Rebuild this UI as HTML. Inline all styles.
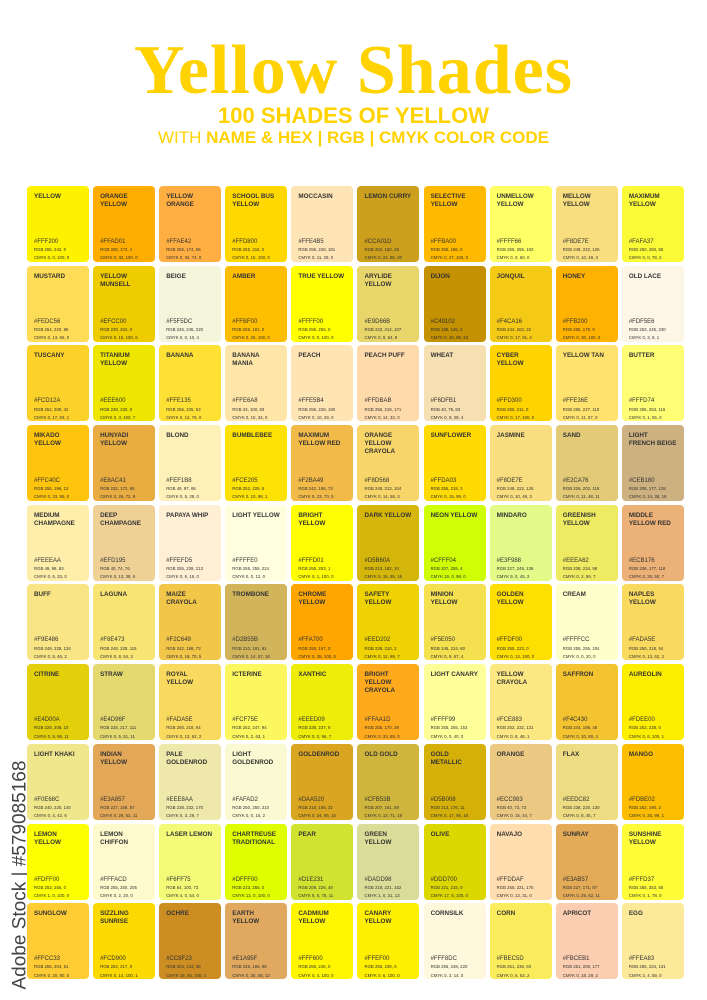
<!DOCTYPE html>
<html><head><meta charset="utf-8"><style>
*{margin:0;padding:0;box-sizing:border-box}
body{width:707px;height:1000px;background:#fff;position:relative;overflow:hidden;font-family:"Liberation Sans",sans-serif}
.t{position:absolute;left:0;width:707px;text-align:center;color:#FFD200;white-space:nowrap}
#t1{top:33px;font-family:"Liberation Serif",serif;font-weight:bold;font-size:70px;line-height:76px;letter-spacing:1px}
#t2{top:104px;font-weight:bold;font-size:22px;line-height:24px}
#t3{top:128px;font-size:17px;line-height:20px}
#t3 b{font-weight:bold}
.g{position:absolute;left:27px;top:186px;display:grid;grid-template-columns:repeat(10,62px);grid-auto-rows:76px;column-gap:4.1px;row-gap:3.7px}
.c{position:relative;border-radius:4px;color:#333}
.c b{position:absolute;left:7px;top:7px;font-size:6.3px;line-height:8px;font-weight:bold;white-space:nowrap}
.c i{position:absolute;left:7px;top:52px;font-style:normal;font-size:4.3px;line-height:8.2px;white-space:nowrap}
.c i span{font-size:6px}
#wm{position:absolute;left:-92px;top:866px;width:225px;transform:rotate(-90deg);font-size:19px;color:#444;white-space:nowrap;text-align:center}
</style></head><body>
<div class="t" id="t1">Yellow Shades</div>
<div class="t" id="t2">100 SHADES OF YELLOW</div>
<div class="t" id="t3">WITH <b>NAME &amp; HEX | RGB | CMYK COLOR CODE</b></div>
<div id="wm">Adobe Stock | #579085168</div>
<div class="g">
<div class="c" style="background:#FFF200"><b>YELLOW</b><i><span>#FFF200</span><br>RGB 255, 242, 0<br>CMYK 0, 0, 100, 0</i></div>
<div class="c" style="background:#FFAD01"><b>ORANGE<br>YELLOW</b><i><span>#FFAD01</span><br>RGB 255, 173, 1<br>CMYK 0, 32, 100, 0</i></div>
<div class="c" style="background:#FFAE42"><b>YELLOW<br>ORANGE</b><i><span>#FFAE42</span><br>RGB 255, 174, 66<br>CMYK 0, 32, 74, 0</i></div>
<div class="c" style="background:#FFD800"><b>SCHOOL BUS<br>YELLOW</b><i><span>#FFD800</span><br>RGB 255, 216, 0<br>CMYK 0, 15, 100, 0</i></div>
<div class="c" style="background:#FFE4B5"><b>MOCCASIN</b><i><span>#FFE4B5</span><br>RGB 255, 228, 181<br>CMYK 0, 11, 29, 0</i></div>
<div class="c" style="background:#CCA01D"><b>LEMON CURRY</b><i><span>#CCA01D</span><br>RGB 204, 160, 29<br>CMYK 0, 22, 86, 20</i></div>
<div class="c" style="background:#FFBA00"><b>SELECTIVE<br>YELLOW</b><i><span>#FFBA00</span><br>RGB 255, 186, 0<br>CMYK 0, 27, 100, 0</i></div>
<div class="c" style="background:#FFFF66"><b>UNMELLOW<br>YELLOW</b><i><span>#FFFF66</span><br>RGB 255, 255, 102<br>CMYK 0, 0, 60, 0</i></div>
<div class="c" style="background:#F8DE7E"><b>MELLOW<br>YELLOW</b><i><span>#F8DE7E</span><br>RGB 248, 222, 126<br>CMYK 0, 10, 49, 3</i></div>
<div class="c" style="background:#FAFA37"><b>MAXIMUM<br>YELLOW</b><i><span>#FAFA37</span><br>RGB 250, 250, 55<br>CMYK 0, 0, 78, 2</i></div>

<div class="c" style="background:#FEDC56"><b>MUSTARD</b><i><span>#FEDC56</span><br>RGB 254, 220, 86<br>CMYK 0, 13, 66, 0</i></div>
<div class="c" style="background:#EFCC00"><b>YELLOW<br>MUNSELL</b><i><span>#EFCC00</span><br>RGB 239, 204, 0<br>CMYK 0, 15, 100, 6</i></div>
<div class="c" style="background:#F5F5DC"><b>BEIGE</b><i><span>#F5F5DC</span><br>RGB 245, 245, 220<br>CMYK 0, 0, 10, 4</i></div>
<div class="c" style="background:#FFBF00"><b>AMBER</b><i><span>#FFBF00</span><br>RGB 255, 191, 0<br>CMYK 0, 25, 100, 0</i></div>
<div class="c" style="background:#FFFF00"><b>TRUE YELLOW</b><i><span>#FFFF00</span><br>RGB 255, 255, 0<br>CMYK 0, 0, 100, 0</i></div>
<div class="c" style="background:#E9D66B"><b>ARYLIDE<br>YELLOW</b><i><span>#E9D66B</span><br>RGB 233, 214, 107<br>CMYK 0, 8, 54, 9</i></div>
<div class="c" style="background:#C49102"><b>DIJON</b><i><span>#C49102</span><br>RGB 196, 145, 2<br>CMYK 0, 26, 99, 23</i></div>
<div class="c" style="background:#F4CA16"><b>JONQUIL</b><i><span>#F4CA16</span><br>RGB 244, 202, 22<br>CMYK 0, 17, 91, 4</i></div>
<div class="c" style="background:#FFB200"><b>HONEY</b><i><span>#FFB200</span><br>RGB 255, 178, 0<br>CMYK 0, 30, 100, 0</i></div>
<div class="c" style="background:#FDF5E6"><b>OLD LACE</b><i><span>#FDF5E6</span><br>RGB 253, 245, 230<br>CMYK 0, 3, 9, 1</i></div>

<div class="c" style="background:#FCD12A"><b>TUSCANY</b><i><span>#FCD12A</span><br>RGB 252, 209, 42<br>CMYK 0, 17, 83, 1</i></div>
<div class="c" style="background:#EEE600"><b>TITANIUM<br>YELLOW</b><i><span>#EEE600</span><br>RGB 238, 230, 0<br>CMYK 0, 3, 100, 7</i></div>
<div class="c" style="background:#FFE135"><b>BANANA</b><i><span>#FFE135</span><br>RGB 255, 225, 53<br>CMYK 0, 12, 79, 0</i></div>
<div class="c" style="background:#FFE6A8"><b>BANANA<br>MANIA</b><i><span>#FFE6A8</span><br>RGB 43, 100, 83<br>CMYK 0, 10, 34, 0</i></div>
<div class="c" style="background:#FFE5B4"><b>PEACH</b><i><span>#FFE5B4</span><br>RGB 255, 229, 180<br>CMYK 0, 10, 29, 0</i></div>
<div class="c" style="background:#FFDBAB"><b>PEACH PUFF</b><i><span>#FFDBAB</span><br>RGB 255, 219, 171<br>CMYK 0, 14, 33, 0</i></div>
<div class="c" style="background:#F6DFB1"><b>WHEAT</b><i><span>#F6DFB1</span><br>RGB 40, 79, 83<br>CMYK 0, 9, 28, 4</i></div>
<div class="c" style="background:#FFD300"><b>CYBER<br>YELLOW</b><i><span>#FFD300</span><br>RGB 255, 211, 0<br>CMYK 0, 17, 100, 0</i></div>
<div class="c" style="background:#FFE36E"><b>YELLOW TAN</b><i><span>#FFE36E</span><br>RGB 255, 227, 110<br>CMYK 0, 11, 57, 0</i></div>
<div class="c" style="background:#FFFD74"><b>BUTTER</b><i><span>#FFFD74</span><br>RGB 255, 253, 116<br>CMYK 0, 1, 55, 0</i></div>

<div class="c" style="background:#FFC40C"><b>MIKADO<br>YELLOW</b><i><span>#FFC40C</span><br>RGB 255, 196, 12<br>CMYK 0, 23, 95, 0</i></div>
<div class="c" style="background:#E8AC41"><b>HUNYADI<br>YELLOW</b><i><span>#E8AC41</span><br>RGB 232, 172, 65<br>CMYK 0, 26, 72, 9</i></div>
<div class="c" style="background:#FEF1B8"><b>BLOND</b><i><span>#FEF1B8</span><br>RGB 49, 97, 86<br>CMYK 0, 5, 28, 0</i></div>
<div class="c" style="background:#FCE205"><b>BUMBLEBEE</b><i><span>#FCE205</span><br>RGB 252, 226, 5<br>CMYK 0, 10, 98, 1</i></div>
<div class="c" style="background:#F2BA49"><b>MAXIMUM<br>YELLOW RED</b><i><span>#F2BA49</span><br>RGB 242, 186, 73<br>CMYK 0, 23, 70, 5</i></div>
<div class="c" style="background:#F8D568"><b>ORANGE<br>YELLOW<br>CRAYOLA</b><i><span>#F8D568</span><br>RGB 248, 213, 104<br>CMYK 0, 14, 58, 3</i></div>
<div class="c" style="background:#FFDA03"><b>SUNFLOWER</b><i><span>#FFDA03</span><br>RGB 255, 218, 3<br>CMYK 0, 15, 99, 0</i></div>
<div class="c" style="background:#F8DE7E"><b>JASMINE</b><i><span>#F8DE7E</span><br>RGB 248, 222, 126<br>CMYK 0, 10, 49, 3</i></div>
<div class="c" style="background:#E2CA76"><b>SAND</b><i><span>#E2CA76</span><br>RGB 226, 202, 118<br>CMYK 0, 11, 48, 11</i></div>
<div class="c" style="background:#CEB180"><b>LIGHT<br>FRENCH BEIGE</b><i><span>#CEB180</span><br>RGB 206, 177, 128<br>CMYK 0, 14, 38, 19</i></div>

<div class="c" style="background:#FEEEAA"><b>MEDIUM<br>CHAMPAGNE</b><i><span>#FEEEAA</span><br>RGB 49, 98, 83<br>CMYK 0, 6, 33, 0</i></div>
<div class="c" style="background:#EFD195"><b>DEEP<br>CHAMPAGNE</b><i><span>#EFD195</span><br>RGB 40, 74, 76<br>CMYK 0, 13, 38, 6</i></div>
<div class="c" style="background:#FFEFD5"><b>PAPAYA WHIP</b><i><span>#FFEFD5</span><br>RGB 255, 239, 213<br>CMYK 0, 6, 16, 0</i></div>
<div class="c" style="background:#FFFFE0"><b>LIGHT YELLOW</b><i><span>#FFFFE0</span><br>RGB 255, 255, 224<br>CMYK 0, 0, 12, 0</i></div>
<div class="c" style="background:#FFFD01"><b>BRIGHT<br>YELLOW</b><i><span>#FFFD01</span><br>RGB 255, 253, 1<br>CMYK 0, 1, 100, 0</i></div>
<div class="c" style="background:#D5B60A"><b>DARK YELLOW</b><i><span>#D5B60A</span><br>RGB 213, 182, 10<br>CMYK 0, 15, 95, 16</i></div>
<div class="c" style="background:#CFFF04"><b>NEON YELLOW</b><i><span>#CFFF04</span><br>RGB 207, 255, 4<br>CMYK 19, 0, 98, 0</i></div>
<div class="c" style="background:#E3F988"><b>MINDARO</b><i><span>#E3F988</span><br>RGB 227, 249, 136<br>CMYK 9, 0, 45, 2</i></div>
<div class="c" style="background:#EEEA62"><b>GREENISH<br>YELLOW</b><i><span>#EEEA62</span><br>RGB 238, 234, 98<br>CMYK 0, 2, 59, 7</i></div>
<div class="c" style="background:#ECB176"><b>MIDDLE<br>YELLOW RED</b><i><span>#ECB176</span><br>RGB 236, 177, 118<br>CMYK 0, 25, 50, 7</i></div>

<div class="c" style="background:#F9E486"><b>BUFF</b><i><span>#F9E486</span><br>RGB 249, 228, 134<br>CMYK 0, 8, 46, 2</i></div>
<div class="c" style="background:#F8E473"><b>LAGUNA</b><i><span>#F8E473</span><br>RGB 248, 228, 115<br>CMYK 0, 8, 54, 3</i></div>
<div class="c" style="background:#F2C649"><b>MAIZE<br>CRAYOLA</b><i><span>#F2C649</span><br>RGB 242, 198, 73<br>CMYK 0, 18, 70, 5</i></div>
<div class="c" style="background:#D2B55B"><b>TROMBONE</b><i><span>#D2B55B</span><br>RGB 210, 181, 91<br>CMYK 0, 14, 57, 18</i></div>
<div class="c" style="background:#FFA700"><b>CHROME<br>YELLOW</b><i><span>#FFA700</span><br>RGB 255, 167, 0<br>CMYK 0, 35, 100, 0</i></div>
<div class="c" style="background:#EED202"><b>SAFETY<br>YELLOW</b><i><span>#EED202</span><br>RGB 238, 210, 2<br>CMYK 0, 12, 99, 7</i></div>
<div class="c" style="background:#F5E050"><b>MINION<br>YELLOW</b><i><span>#F5E050</span><br>RGB 245, 224, 80<br>CMYK 0, 9, 67, 4</i></div>
<div class="c" style="background:#FFDF00"><b>GOLDEN<br>YELLOW</b><i><span>#FFDF00</span><br>RGB 255, 223, 0<br>CMYK 0, 13, 100, 0</i></div>
<div class="c" style="background:#FFFFCC"><b>CREAM</b><i><span>#FFFFCC</span><br>RGB 255, 255, 204<br>CMYK 0, 0, 20, 0</i></div>
<div class="c" style="background:#FADA5E"><b>NAPLES<br>YELLOW</b><i><span>#FADA5E</span><br>RGB 250, 218, 94<br>CMYK 0, 13, 62, 2</i></div>

<div class="c" style="background:#E4D00A"><b>CITRINE</b><i><span>#E4D00A</span><br>RGB 228, 208, 10<br>CMYK 0, 9, 96, 11</i></div>
<div class="c" style="background:#E4D96F"><b>STRAW</b><i><span>#E4D96F</span><br>RGB 228, 217, 111<br>CMYK 0, 5, 51, 11</i></div>
<div class="c" style="background:#FADA5E"><b>ROYAL<br>YELLOW</b><i><span>#FADA5E</span><br>RGB 250, 218, 94<br>CMYK 0, 13, 62, 2</i></div>
<div class="c" style="background:#FCF75E"><b>ICTERINE</b><i><span>#FCF75E</span><br>RGB 252, 247, 94<br>CMYK 0, 2, 63, 1</i></div>
<div class="c" style="background:#EEED09"><b>XANTHIC</b><i><span>#EEED09</span><br>RGB 238, 237, 9<br>CMYK 0, 0, 96, 7</i></div>
<div class="c" style="background:#FFAA1D"><b>BRIGHT<br>YELLOW<br>CRAYOLA</b><i><span>#FFAA1D</span><br>RGB 255, 170, 29<br>CMYK 0, 33, 89, 0</i></div>
<div class="c" style="background:#FFFF99"><b>LIGHT CANARY</b><i><span>#FFFF99</span><br>RGB 255, 255, 153<br>CMYK 0, 0, 40, 0</i></div>
<div class="c" style="background:#FCE883"><b>YELLOW<br>CRAYOLA</b><i><span>#FCE883</span><br>RGB 252, 232, 131<br>CMYK 0, 8, 48, 1</i></div>
<div class="c" style="background:#F4C430"><b>SAFFRON</b><i><span>#F4C430</span><br>RGB 244, 196, 48<br>CMYK 0, 20, 80, 4</i></div>
<div class="c" style="background:#FDEE00"><b>AUREOLIN</b><i><span>#FDEE00</span><br>RGB 253, 238, 0<br>CMYK 0, 6, 100, 1</i></div>

<div class="c" style="background:#F0E68C"><b>LIGHT KHAKI</b><i><span>#F0E68C</span><br>RGB 240, 230, 140<br>CMYK 0, 4, 42, 6</i></div>
<div class="c" style="background:#E3A857"><b>INDIAN<br>YELLOW</b><i><span>#E3A857</span><br>RGB 227, 168, 87<br>CMYK 0, 26, 62, 11</i></div>
<div class="c" style="background:#EEE8AA"><b>PALE<br>GOLDENROD</b><i><span>#EEE8AA</span><br>RGB 238, 232, 170<br>CMYK 0, 3, 29, 7</i></div>
<div class="c" style="background:#FAFAD2"><b>LIGHT<br>GOLDENROD</b><i><span>#FAFAD2</span><br>RGB 250, 250, 210<br>CMYK 0, 0, 16, 2</i></div>
<div class="c" style="background:#DAA520"><b>GOLDENROD</b><i><span>#DAA520</span><br>RGB 218, 165, 32<br>CMYK 0, 24, 85, 15</i></div>
<div class="c" style="background:#CFB53B"><b>OLD GOLD</b><i><span>#CFB53B</span><br>RGB 207, 181, 59<br>CMYK 0, 13, 71, 19</i></div>
<div class="c" style="background:#D5B008"><b>GOLD<br>METALLIC</b><i><span>#D5B008</span><br>RGB 213, 176, 11<br>CMYK 0, 17, 95, 16</i></div>
<div class="c" style="background:#ECC983"><b>ORANGE</b><i><span>#ECC983</span><br>RGB 40, 73, 72<br>CMYK 0, 15, 44, 7</i></div>
<div class="c" style="background:#EEDC82"><b>FLAX</b><i><span>#EEDC82</span><br>RGB 238, 220, 130<br>CMYK 0, 8, 45, 7</i></div>
<div class="c" style="background:#FDBE02"><b>MANGO</b><i><span>#FDBE02</span><br>RGB 253, 190, 2<br>CMYK 0, 25, 99, 1</i></div>

<div class="c" style="background:#FDFF00"><b>LEMON<br>YELLOW</b><i><span>#FDFF00</span><br>RGB 253, 255, 0<br>CMYK 1, 0, 100, 0</i></div>
<div class="c" style="background:#FFFACD"><b>LEMON<br>CHIFFON</b><i><span>#FFFACD</span><br>RGB 255, 250, 205<br>CMYK 0, 2, 20, 0</i></div>
<div class="c" style="background:#F3FA78"><b>LASER LEMON</b><i><span>#F6FF75</span><br>RGB 64, 100, 73<br>CMYK 4, 0, 54, 0</i></div>
<div class="c" style="background:#DFFF00"><b>CHARTREUSE<br>TRADITIONAL</b><i><span>#DFFF00</span><br>RGB 223, 255, 0<br>CMYK 13, 0, 100, 0</i></div>
<div class="c" style="background:#D1E231"><b>PEAR</b><i><span>#D1E231</span><br>RGB 209, 226, 49<br>CMYK 8, 0, 78, 11</i></div>
<div class="c" style="background:#DADD98"><b>GREEN<br>YELLOW</b><i><span>#DADD98</span><br>RGB 218, 221, 152<br>CMYK 1, 0, 31, 13</i></div>
<div class="c" style="background:#DDD700"><b>OLIVE</b><i><span>#DDD700</span><br>RGB 221, 215, 0<br>CMYK 17, 5, 100, 0</i></div>
<div class="c" style="background:#FFDDAF"><b>NAVAJO</b><i><span>#FFDDAF</span><br>RGB 255, 221, 175<br>CMYK 0, 13, 31, 0</i></div>
<div class="c" style="background:#E3AB57"><b>SUNRAY</b><i><span>#E3AB57</span><br>RGB 227, 171, 87<br>CMYK 0, 25, 62, 11</i></div>
<div class="c" style="background:#FFFD37"><b>SUNSHINE<br>YELLOW</b><i><span>#FFFD37</span><br>RGB 255, 253, 55<br>CMYK 0, 1, 78, 0</i></div>

<div class="c" style="background:#FFCC33"><b>SUNGLOW</b><i><span>#FFCC33</span><br>RGB 255, 204, 51<br>CMYK 0, 20, 80, 0</i></div>
<div class="c" style="background:#FCD900"><b>SIZZLING<br>SUNRISE</b><i><span>#FCD900</span><br>RGB 252, 217, 0<br>CMYK 0, 14, 100, 1</i></div>
<div class="c" style="background:#CC8E23"><b>OCHRE</b><i><span>#CC8F23</span><br>RGB 204, 143, 38<br>CMYK 19, 45, 100, 2</i></div>
<div class="c" style="background:#E1A95F"><b>EARTH<br>YELLOW</b><i><span>#E1A95F</span><br>RGB 225, 169, 95<br>CMYK 0, 25, 58, 12</i></div>
<div class="c" style="background:#FFF600"><b>CADMIUM<br>YELLOW</b><i><span>#FFF600</span><br>RGB 255, 246, 0<br>CMYK 0, 4, 100, 0</i></div>
<div class="c" style="background:#FFEF00"><b>CANARY<br>YELLOW</b><i><span>#FFEF00</span><br>RGB 255, 239, 0<br>CMYK 0, 6, 100, 0</i></div>
<div class="c" style="background:#FFF8DC"><b>CORNSILK</b><i><span>#FFF8DC</span><br>RGB 255, 248, 220<br>CMYK 0, 3, 14, 0</i></div>
<div class="c" style="background:#FBEC5D"><b>CORN</b><i><span>#FBEC5D</span><br>RGB 251, 236, 93<br>CMYK 0, 6, 63, 2</i></div>
<div class="c" style="background:#FBCEB1"><b>APRICOT</b><i><span>#FBCEB1</span><br>RGB 251, 206, 177<br>CMYK 0, 18, 29, 2</i></div>
<div class="c" style="background:#FCE99A"><b>EGG</b><i><span>#FFEA83</span><br>RGB 255, 234, 131<br>CMYK 2, 4, 59, 0</i></div>
</div>
</body></html>
